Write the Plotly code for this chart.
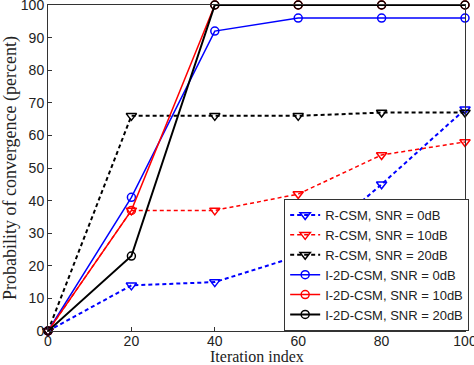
import plotly.graph_objects as go

iters = [0, 20, 40, 60, 80, 100]
r_csm_0 = [0, 14, 15, 23, 45, 68]
r_csm_10 = [0, 37, 37, 42, 54, 58]
r_csm_20 = [0, 66, 66, 66, 67, 67]
i2d_0 = [0, 41, 92, 96, 96, 96]
i2d_10 = [0, 37, 100, 100, 100, 100]
i2d_20 = [0, 23, 100, 100, 100, 100]

names = ["R-CSM, SNR = 0dB", "R-CSM, SNR = 10dB", "R-CSM, SNR = 20dB",
         "I-2D-CSM, SNR = 0dB", "I-2D-CSM, SNR = 10dB", "I-2D-CSM, SNR = 20dB"]
series = [r_csm_0, r_csm_10, r_csm_20, i2d_0, i2d_10, i2d_20]
colors = ["#0000ff", "#ff0000", "#000000", "#0000ff", "#ff0000", "#000000"]
x_title = "Iteration index"
y_title = "Probability of convergence (percent)"

fig = go.Figure()
for i, (nm, ys, c) in enumerate(zip(names, series, colors)):
    dashed = i < 3
    fig.add_trace(go.Scatter(
        x=iters, y=ys, name=nm, mode="lines+markers",
        line=dict(color=c, width=2 if (i == 5 or i == 0 or i == 2) else 1.5,
                  dash="4px,3px" if dashed else "solid"),
        marker=dict(symbol="triangle-down-open" if dashed else "circle-open",
                    size=9 if dashed else 8, color=c, line=dict(width=1.5, color=c)),
        cliponaxis=False,
    ))

axis_common = dict(showline=True, linecolor="#333333", linewidth=1, mirror=True,
                   ticks="inside", ticklen=4, tickcolor="#333333", showgrid=False,
                   zeroline=False, automargin=False, ticklabeloverflow="allow",
                   tickfont=dict(family="Liberation Sans", size=14, color="#222222"))

fig.update_layout(
    width=474, height=365,
    margin=dict(l=48, r=9, t=5, b=34),
    paper_bgcolor="white", plot_bgcolor="white",
    xaxis=dict(range=[0, 100], tickvals=[0, 20, 40, 60, 80, 100], ticklabelstandoff=-3, **axis_common),
    yaxis=dict(range=[0, 100], tickvals=[0, 10, 20, 30, 40, 50, 60, 70, 80, 90, 100],
               title=dict(text=y_title, font=dict(family="Liberation Serif", size=18, color="#222222"), standoff=2),
               **axis_common),
    legend=dict(x=1.01, y=0, xanchor="right", yanchor="bottom",
                bgcolor="white", bordercolor="#333333", borderwidth=1,
                font=dict(family="Liberation Sans", size=13, color="#222222"),
                tracegroupgap=0, itemwidth=30),
    showlegend=True,
    annotations=[dict(text=x_title, x=0.5, y=0, xref="paper", yref="paper",
                      xanchor="center", yanchor="top", yshift=-15, showarrow=False,
                      font=dict(family="Liberation Serif", size=16, color="#222222"))],
)

fig.write_html("out.html", config={"displayModeBar": False},
               post_script="document.body.style.margin='0';document.body.style.overflow='hidden';")
